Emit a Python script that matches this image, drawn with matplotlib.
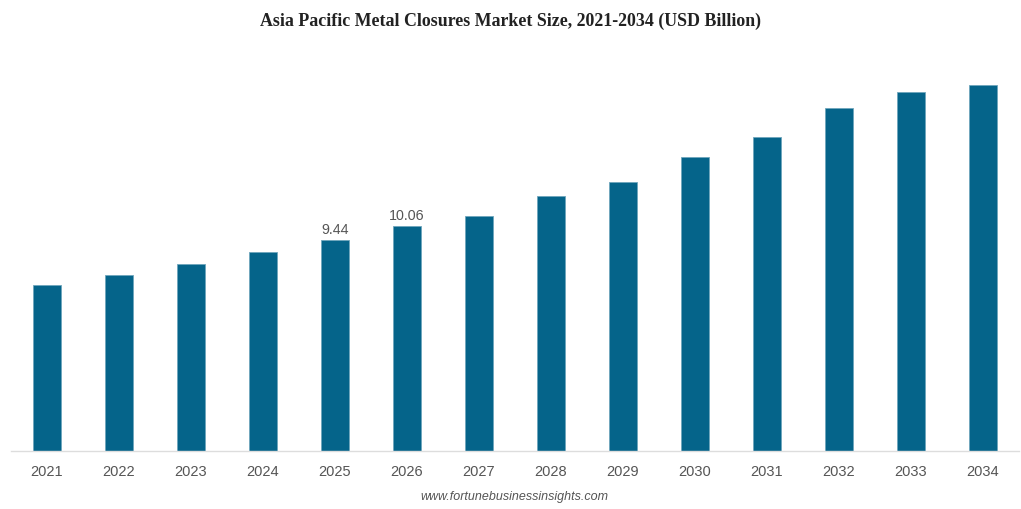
import matplotlib
matplotlib.use("Agg")
import matplotlib.pyplot as plt

years = ["2021", "2022", "2023", "2024", "2025", "2026", "2027",
         "2028", "2029", "2030", "2031", "2032", "2033", "2034"]
values = [7.40, 7.86, 8.35, 8.88, 9.44, 10.06, 10.51,
          11.40, 12.00, 13.11, 14.01, 15.30, 16.01, 16.32]
labeled = {"2025": "9.44", "2026": "10.06"}

W, H = 1021, 510
fig = plt.figure(figsize=(W / 100, H / 100), dpi=100)
left, right = 11 / W, 1019 / W
bottom, top = 1 - 452.3 / H, 1 - 40 / H
ax = fig.add_axes([left, bottom, right - left, top - bottom])

x = list(range(len(years)))
ax.bar(x, values, width=0.4, color="#05648A", edgecolor="#6FA6BC", linewidth=0.6)
ax.set_xlim(-0.5, len(years) - 0.5)
# y-scale: 22.42 px per unit
ax.set_ylim(0, (452.3 - 40) / 22.42)

for i, (y, v) in enumerate(zip(years, values)):
    if y in labeled:
        ax.text(i, v + 0.17, labeled[y], ha="center", va="bottom",
                fontsize=10.3, color="#555555", family="Liberation Sans")

ax.set_xticks(x)
ax.set_xticklabels(years, fontsize=10.5, color="#555555", family="Liberation Sans")
ax.tick_params(axis="x", length=0, pad=9)
ax.set_yticks([])
for s in ["top", "right", "left"]:
    ax.spines[s].set_visible(False)
ax.spines["bottom"].set_color("#DDDDDD")
ax.spines["bottom"].set_linewidth(1)

fig.text(510 / W, 1 - 21 / H, "Asia Pacific Metal Closures Market Size, 2021-2034 (USD Billion)",
         ha="center", va="center", fontsize=12.9, fontweight="bold",
         family="Liberation Serif", color="#222222")
fig.text(514 / W, 1 - 497 / H, "www.fortunebusinessinsights.com",
         ha="center", va="center", fontsize=9.0, style="italic",
         family="Liberation Sans", color="#555555")

fig.savefig("out.png", dpi=100)
